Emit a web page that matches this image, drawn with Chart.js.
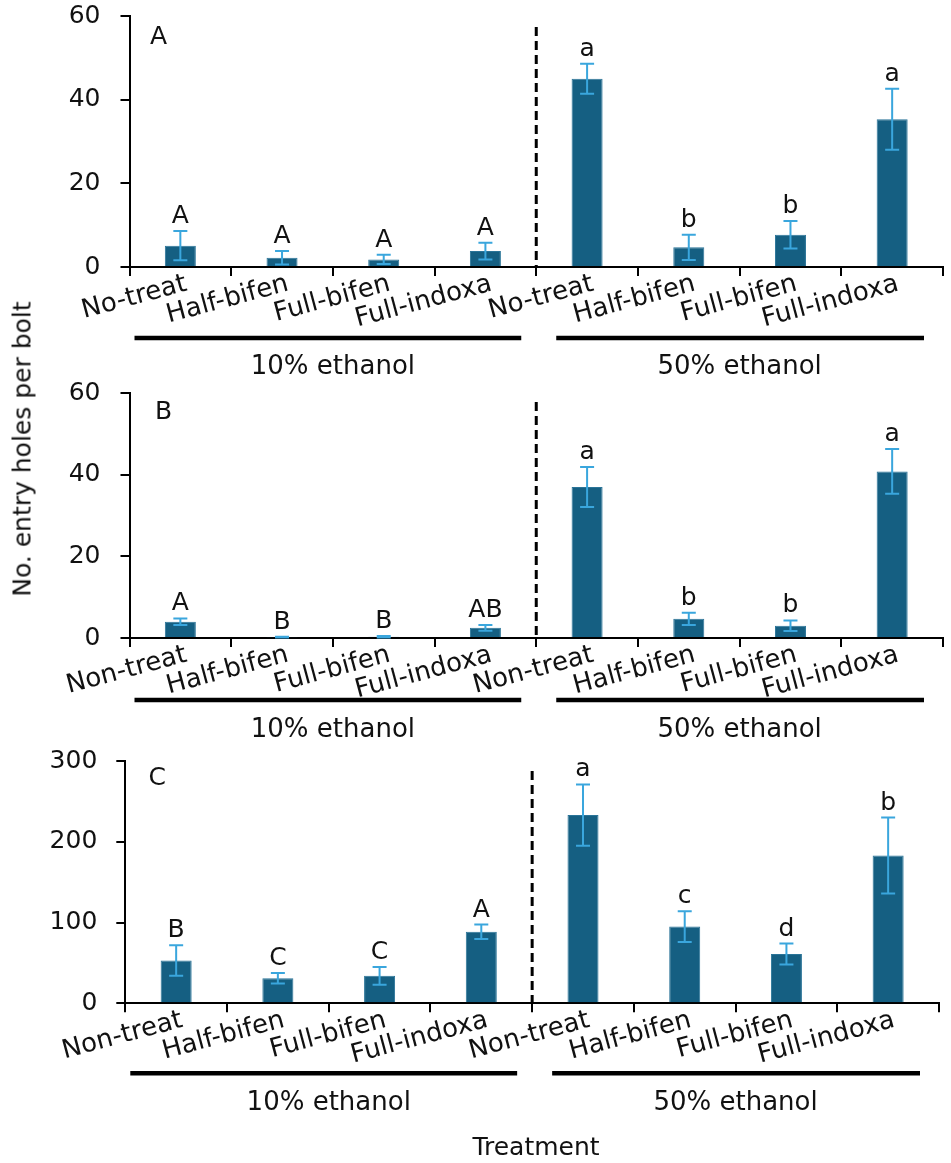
<!DOCTYPE html>
<html><head><meta charset="utf-8">
<script src="https://cdn.jsdelivr.net/npm/chart.js@4.4.1/dist/chart.umd.min.js"></script>
<style>
html,body{margin:0;padding:0;background:#fff;width:951px;height:1163px;overflow:hidden;position:relative;font-family:'DejaVu Sans',sans-serif;color:#111;}
.panel{position:absolute;left:0;width:951px;}
#ytitle{position:absolute;left:22px;top:449px;transform:translate(-50%,-50%) rotate(-90deg);font-size:25px;white-space:nowrap;}
#xtitle{position:absolute;left:536px;top:1146px;transform:translate(-50%,-50%);font-size:25px;white-space:nowrap;}
</style></head>
<body>
<div class="panel" style="top:-19px;height:404px"><canvas id="cA"></canvas></div>
<div class="panel" style="top:358px;height:394px"><canvas id="cB"></canvas></div>
<div class="panel" style="top:727px;height:436px"><canvas id="cC"></canvas></div>
<div id="ytitle">No. entry holes per bolt</div>
<div id="xtitle">Treatment</div>
<script>
// ---------- data ----------
const categoriesA = ['No-treat','Half-bifen','Full-bifen','Full-indoxa','No-treat','Half-bifen','Full-bifen','Full-indoxa'];
const categoriesB = ['Non-treat','Half-bifen','Full-bifen','Full-indoxa','Non-treat','Half-bifen','Full-bifen','Full-indoxa'];
const categoriesC = ['Non-treat','Half-bifen','Full-bifen','Full-indoxa','Non-treat','Half-bifen','Full-bifen','Full-indoxa'];
const groupLabels = ['10% ethanol','50% ethanol'];
const panelLetters = ['A','B','C'];

const valuesA = [5.1, 2.2, 1.8, 3.8, 45.0, 4.7, 7.7, 35.3];
const errorsA = [3.5, 1.6, 1.1, 2.0, 3.6, 3.0, 3.3, 7.3];
const lettersA = ['A','A','A','A','a','b','b','a'];

const valuesB = [4.0, 0.2, 0.3, 2.5, 37.0, 4.7, 3.0, 40.8];
const errorsB = [0.8, 0.1, 0.2, 0.7, 4.9, 1.5, 1.3, 5.5];
const lettersB = ['A','B','B','AB','a','b','b','a'];

const valuesC = [53, 31, 34, 88.5, 233, 95, 61, 183];
const errorsC = [19, 6.5, 11, 9, 38, 19, 13, 47];
const lettersC = ['B','C','C','A','a','c','d','b'];

const yMaxA = 60, yStepA = 20;
const yMaxB = 60, yStepB = 20;
const yMaxC = 300, yStepC = 100;

// ---------- styles ----------
const FONT = "'DejaVu Sans', sans-serif";
const BAR_COLOR = '#155f82';
const ERR_COLOR = '#3aa6dd';
const INK = '#111';

function annotPlugin(p) {
  return {
    id: 'annot',
    afterDatasetsDraw(chart) {
      const {ctx, chartArea, scales} = chart;
      const x = scales.x, y = scales.y;
      const meta = chart.getDatasetMeta(0);
      ctx.save();
      // error bars and letters
      meta.data.forEach((bar, i) => {
        const v = p.values[i], e = p.errors[i];
        const yt = y.getPixelForValue(v + e);
        const yb = y.getPixelForValue(Math.max(v - e, 0));
        ctx.strokeStyle = ERR_COLOR;
        ctx.lineWidth = 2;
        ctx.beginPath();
        ctx.moveTo(bar.x, yt); ctx.lineTo(bar.x, yb);
        ctx.moveTo(bar.x - 7, yt); ctx.lineTo(bar.x + 7, yt);
        ctx.moveTo(bar.x - 7, yb); ctx.lineTo(bar.x + 7, yb);
        ctx.stroke();
        ctx.fillStyle = INK;
        ctx.font = '25px ' + FONT;
        ctx.textAlign = 'center';
        ctx.textBaseline = 'alphabetic';
        ctx.fillText(p.letters[i], bar.x, yt - 8);
      });
      // dashed separator
      const xd = (x.getPixelForValue(3) + x.getPixelForValue(4)) / 2;
      ctx.strokeStyle = '#000';
      ctx.lineWidth = 3;
      ctx.setLineDash([9, 5]);
      ctx.beginPath();
      ctx.moveTo(xd, chartArea.top + p.dashTop);
      ctx.lineTo(xd, chartArea.bottom);
      ctx.stroke();
      ctx.setLineDash([]);
      // panel letter
      ctx.fillStyle = INK;
      ctx.font = '25px ' + FONT;
      ctx.textAlign = 'center';
      ctx.textBaseline = 'middle';
      ctx.fillText(p.panel, chartArea.left + p.panelDx, chartArea.top + p.panelDy);
      // group lines
      const ly = chartArea.bottom + p.lineDy;
      ctx.strokeStyle = '#000';
      ctx.lineWidth = 4.5;
      ctx.beginPath();
      ctx.moveTo(chartArea.left + 5, ly); ctx.lineTo(xd - 15, ly);
      ctx.moveTo(xd + 20, ly); ctx.lineTo(chartArea.right - 19, ly);
      ctx.stroke();
      const ty = chartArea.bottom + p.textDy;
      ctx.font = '26px ' + FONT;
      ctx.fillText(groupLabels[0], (chartArea.left + xd) / 2, ty);
      ctx.fillText(groupLabels[1], (xd + chartArea.right) / 2, ty);
      ctx.restore();
    }
  };
}

function makeChart(id, p) {
  return new Chart(document.getElementById(id), {
    type: 'bar',
    data: {
      labels: p.labels,
      datasets: [{
        data: p.values,
        backgroundColor: BAR_COLOR,
        borderColor: '#2a7498',
        borderWidth: 1,
        barPercentage: 0.305,
        categoryPercentage: 1.0
      }]
    },
    options: {
      responsive: true,
      maintainAspectRatio: false,
      animation: false,
      events: [],
      layout: { padding: { top: p.padTop, right: p.padRight, bottom: 0, left: 0 } },
      plugins: { legend: { display: false }, tooltip: { enabled: false } },
      scales: {
        x: {
          offset: true,
          grid: { offset: true, drawOnChartArea: false, drawTicks: true, tickLength: 9, color: '#000', lineWidth: 2 },
          border: { display: true, color: '#000', width: 2 },
          ticks: {
            color: INK,
            font: { family: FONT, size: 26, lineHeight: 1.0 },
            minRotation: 15, maxRotation: 15,
            padding: -5,
            labelOffset: 6,
            autoSkip: false
          },
          afterFit(s) { s.height = p.xHeight; }
        },
        y: {
          min: 0, max: p.yMax,
          grid: { drawOnChartArea: false, drawTicks: true, tickLength: 9, color: '#000', lineWidth: 2 },
          border: { display: true, color: '#000', width: 2 },
          ticks: {
            stepSize: p.yStep,
            color: INK,
            font: { family: FONT, size: 25 },
            padding: p.yPad
          },
          afterFit(s) { s.width = p.yWidth; }
        }
      }
    },
    plugins: [annotPlugin(p)]
  });
}

makeChart('cA', {
  labels: categoriesA, values: valuesA, errors: errorsA, letters: lettersA,
  yMax: yMaxA, yStep: yStepA, panel: panelLetters[0],
  padTop: 35, padRight: 8, xHeight: 118, yWidth: 129.5, yPad: 20,
  dashTop: 11, panelDx: 29, panelDy: 21, lineDy: 71, textDy: 100
});
makeChart('cB', {
  labels: categoriesB, values: valuesB, errors: errorsB, letters: lettersB,
  yMax: yMaxB, yStep: yStepB, panel: panelLetters[1],
  padTop: 35, padRight: 8, xHeight: 114, yWidth: 129.5, yPad: 20,
  dashTop: 9, panelDx: 34, panelDy: 19, lineDy: 62, textDy: 92
});
makeChart('cC', {
  labels: categoriesC, values: valuesC, errors: errorsC, letters: lettersC,
  yMax: yMaxC, yStep: yStepC, panel: panelLetters[2],
  padTop: 34, padRight: 12, xHeight: 159.7, yWidth: 125.3, yPad: 19,
  dashTop: 10, panelDx: 32, panelDy: 17, lineDy: 70, textDy: 100
});
</script>
</body></html>
